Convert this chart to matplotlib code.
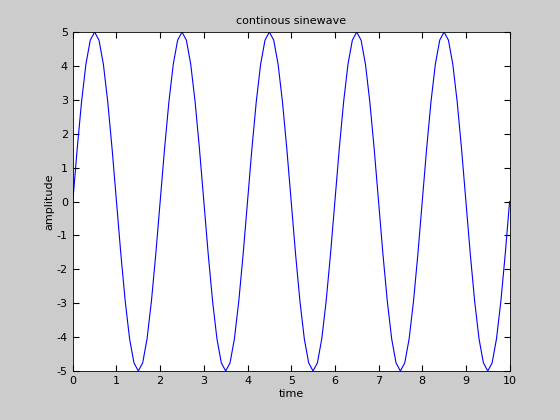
import matplotlib
matplotlib.use("Agg")
import matplotlib.pyplot as plt

plt.rcParams["axes.unicode_minus"] = False

time = [i / 10 for i in range(101)]
amplitude = [
    0, 1.55, 2.94, 4.05, 4.76, 5, 4.76, 4.05, 2.94, 1.55, 0, -1.55, -2.94, -4.05, -4.76, -5, -4.76, -4.05, -2.94, -1.55,
    0, 1.55, 2.94, 4.05, 4.76, 5, 4.76, 4.05, 2.94, 1.55, 0, -1.55, -2.94, -4.05, -4.76, -5, -4.76, -4.05, -2.94, -1.55,
    0, 1.55, 2.94, 4.05, 4.76, 5, 4.76, 4.05, 2.94, 1.55, 0, -1.55, -2.94, -4.05, -4.76, -5, -4.76, -4.05, -2.94, -1.55,
    0, 1.55, 2.94, 4.05, 4.76, 5, 4.76, 4.05, 2.94, 1.55, 0, -1.55, -2.94, -4.05, -4.76, -5, -4.76, -4.05, -2.94, -1.55,
    0, 1.55, 2.94, 4.05, 4.76, 5, 4.76, 4.05, 2.94, 1.55, 0, -1.55, -2.94, -4.05, -4.76, -5, -4.76, -4.05, -2.94, -1.55,
    0,
]
xticks = list(range(0, 11))
yticks = list(range(-5, 6))

fig = plt.figure(figsize=(5.6, 4.2), dpi=100, facecolor="#cccccc")
ax = fig.add_axes([0.130, 0.1167, 0.780, 0.807])
ax.plot(time, amplitude, color="#0000ff", linewidth=0.8)
ax.set_xlim(0, 10)
ax.set_ylim(-5, 5)
ax.set_xticks(xticks)
ax.set_yticks(yticks)
ax.tick_params(direction="in", labelsize=8, length=4, top=True, right=True, labeltop=False, labelright=False)
ax.set_xlabel("time", fontsize=8, labelpad=2)
ax.set_ylabel("amplitude", fontsize=8, labelpad=2)
ax.set_title("continous sinewave", fontsize=8, pad=6)
for s in ax.spines.values():
    s.set_linewidth(0.6)
fig.savefig("out.png", dpi=100, facecolor=fig.get_facecolor())
